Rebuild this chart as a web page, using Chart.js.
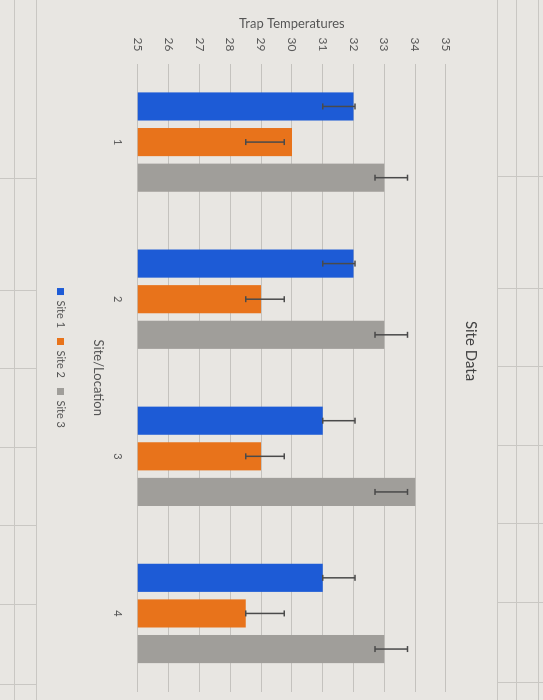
<!DOCTYPE html>
<html>
<head>
<meta charset="utf-8">
<script src="https://cdn.jsdelivr.net/npm/chart.js@4"></script>
<style>
  html, body { margin: 0; padding: 0; }
  body { width: 543px; height: 700px; overflow: hidden; background: #e8e6e2; position: relative; }
  .sheet { position: absolute; background: #c9c7c3; }
  #wrap {
    position: absolute; left: 0; top: 0; width: 700px; height: 543px;
    transform-origin: 0 0; transform: translate(543px, 0) rotate(90deg);
  }
</style>
</head>
<body>
<!-- spreadsheet cell lines behind the chart -->
<div class="sheet" style="left:14px;top:0;width:1px;height:700px"></div>
<div class="sheet" style="left:36px;top:0;width:1px;height:700px"></div>
<div class="sheet" style="left:497px;top:0;width:1px;height:700px"></div>
<div class="sheet" style="left:516px;top:0;width:1px;height:700px"></div>
<div class="sheet" style="left:538px;top:0;width:1px;height:700px"></div>
<div id="rows"></div>
<div id="wrap"><canvas id="site-chart"></canvas></div>
<script>
const categories = ["1", "2", "3", "4"];
const siteLabels = ["Site 1", "Site 2", "Site 3"];
const site1 = [32, 32, 31, 31];
const site2 = [30, 29, 29, 28.5];
const site3 = [33, 33, 34, 33];
// error bars as drawn in the picture (low / high ends)
const site1ErrLow = [31, 31, 31, 31];
const site1ErrHigh = [32.05, 32.05, 32.05, 32.05];
const site2ErrLow = [28.5, 28.5, 28.5, 28.5];
const site2ErrHigh = [29.75, 29.75, 29.75, 29.75];
const site3ErrLow = [32.7, 32.7, 32.7, 32.7];
const site3ErrHigh = [33.75, 33.75, 33.75, 33.75];
const valueTicks = [25, 26, 27, 28, 29, 30, 31, 32, 33, 34, 35];

// cell rows of the sheet on both sides
const rowLines = [178, 290, 368, 447, 525, 604, 684];
const rows = document.getElementById("rows");
rowLines.forEach(y => {
  rows.innerHTML += '<div class="sheet" style="left:0;top:' + y + 'px;width:36px;height:1px"></div>';
  rows.innerHTML += '<div class="sheet" style="left:497px;top:' + (y - 2) + 'px;width:46px;height:1px"></div>';
});

const errLow = [site1ErrLow, site2ErrLow, site3ErrLow];
const errHigh = [site1ErrHigh, site2ErrHigh, site3ErrHigh];

const errorBars = {
  id: "errorBars",
  afterLayout(chart) {
    // legend sits a little right of centre in the original
    chart.legend.left += 7;
    chart.legend.right += 7;
  },
  afterDatasetsDraw(chart) {
    const ctx = chart.ctx;
    const y = chart.scales.y;
    ctx.save();
    ctx.strokeStyle = "#4a4a4a";
    ctx.lineWidth = 1.5;
    chart.data.datasets.forEach((ds, i) => {
      const meta = chart.getDatasetMeta(i);
      meta.data.forEach((bar, j) => {
        const lo = y.getPixelForValue(errLow[i][j]);
        const hi = y.getPixelForValue(errHigh[i][j]);
        ctx.beginPath();
        ctx.moveTo(bar.x, lo); ctx.lineTo(bar.x, hi);
        ctx.moveTo(bar.x - 3, lo); ctx.lineTo(bar.x + 3, lo);
        ctx.moveTo(bar.x - 3, hi); ctx.lineTo(bar.x + 3, hi);
        ctx.stroke();
      });
    });
    ctx.restore();
  }
};

new Chart("site-chart", {
  type: "bar",
  data: {
    labels: categories,
    datasets: [
      { label: siteLabels[0], data: site1, backgroundColor: "#1d5bd6" },
      { label: siteLabels[1], data: site2, backgroundColor: "#e8731b" },
      { label: siteLabels[2], data: site3, backgroundColor: "#a09e9a" },
    ],
  },
  options: {
    animation: false,
    responsive: true,
    maintainAspectRatio: false,
    datasets: {
      bar: { categoryPercentage: 0.68, barPercentage: 0.79 },
    },
    layout: {
      padding: { left: 10, right: 8, top: 63, bottom: 45 },
    },
    scales: {
      x: {
        grid: { display: false, drawTicks: false },
        border: { display: false },
        ticks: { color: "#5a5a5a", font: { family: "Lato", size: 11 }, padding: 14 },
        title: {
          display: true,
          text: "Site/Location",
          color: "#555",
          font: { family: "Lato", size: 13 },
          padding: { top: -9, bottom: 14 },
        },
      },
      y: {
        min: 25,
        max: 35,
        afterBuildTicks: (axis) => {
          axis.ticks = valueTicks.map(v => ({ value: v }));
        },
        grid: { color: "#c4c2be", drawTicks: false },
        border: { display: false },
        ticks: { color: "#5a5a5a", font: { family: "Lato", size: 12 }, padding: 12 },
        title: {
          display: true,
          text: "Trap Temperatures",
          color: "#555",
          font: { family: "Lato", size: 13 },
          padding: { top: 6, bottom: -6 },
        },
      },
    },
    plugins: {
      legend: {
        position: "bottom",
        labels: {
          color: "#555",
          font: { family: "Lato", size: 11 },
          boxWidth: 7,
          boxHeight: 7,
          padding: 10,
        },
      },
      title: {
        display: true,
        text: "Site Data",
        color: "#444",
        font: { family: "Lato", size: 15, weight: "normal" },
        padding: { top: 0, bottom: 16 },
      },
      tooltip: { enabled: false },
    },
  },
  plugins: [errorBars],
});
</script>
</body>
</html>
